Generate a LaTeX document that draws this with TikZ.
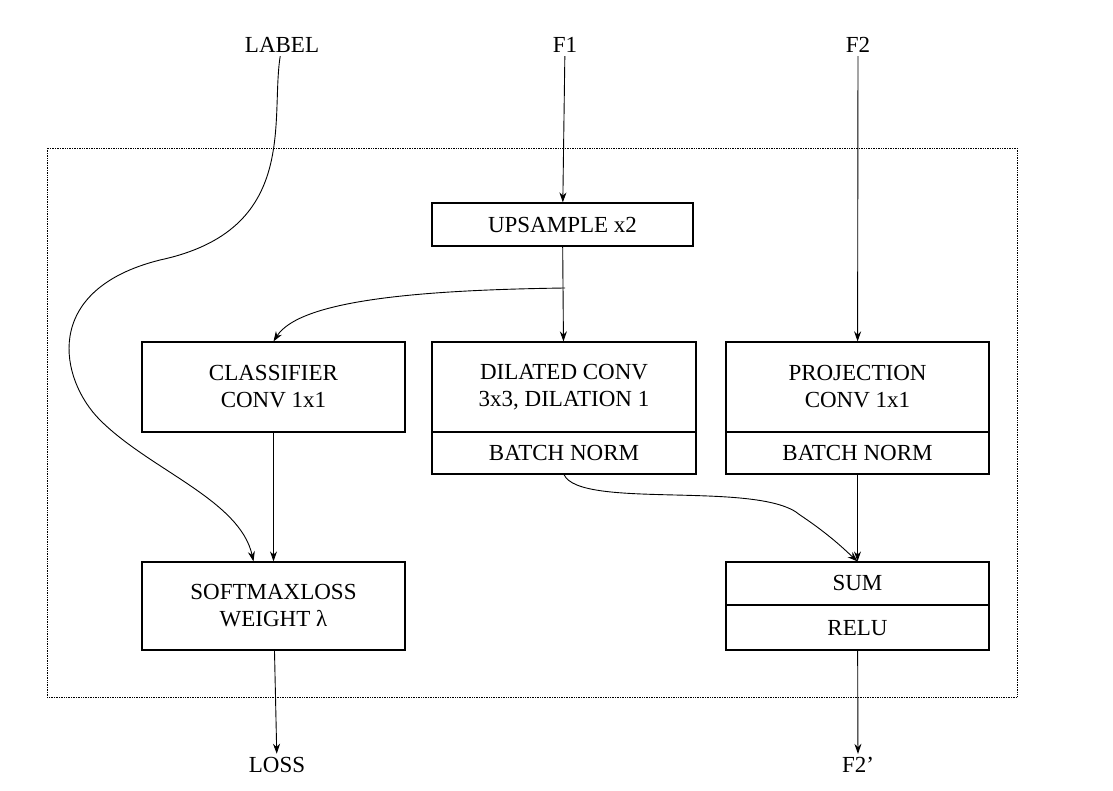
\documentclass[tikz,border=0pt]{standalone}
\usepackage{fontspec}
\setmainfont{Liberation Serif}
\usetikzlibrary{arrows.meta}
\begin{document}
\begin{tikzpicture}[x=1pt,y=-1pt,
  box/.style={draw,line width=1.2pt,inner sep=0pt},
  txt/.style={font=\fontsize{23}{27}\selectfont,align=center},
  arr/.style={-{Stealth[length=10pt,width=7pt]},line width=0.9pt}]
\useasboundingbox (0,0) rectangle (1113,791);
\draw[densely dotted,line width=0.7pt] (47,148) rectangle (1017,697);
\node[txt] (label) at (282,45) {LABEL};
\node[txt] (f1) at (565,45) {F1};
\node[txt] (f2) at (858,45) {F2};
\node[txt] (loss) at (277,765) {LOSS};
\node[txt] (f2p) at (858,765) {F2’};
% boxes
\node[box,minimum width=261pt,minimum height=43pt,txt] (up) at (562.5,224.5) {UPSAMPLE x2};
\node[box,minimum width=263pt,minimum height=90pt,txt] (cls) at (273.5,387) {CLASSIFIER\\CONV 1x1};
\node[box,minimum width=264pt,minimum height=132pt] (dil) at (564,408) {};
\draw[line width=1.2pt] (432,432) -- (696,432);
\node[txt] (dilt) at (564,387) {DILATED CONV\\3x3, DILATION 1};
\node[txt] (dilb) at (564,453) {BATCH NORM};
\node[box,minimum width=263pt,minimum height=132pt] (proj) at (857.5,408) {};
\draw[line width=1.2pt] (726,432) -- (989,432);
\node[txt] (projt) at (857.5,387) {PROJECTION\\CONV 1x1};
\node[txt] (projb) at (857.5,453) {BATCH NORM};
\node[box,minimum width=263pt,minimum height=88pt,txt] (soft) at (273.5,606) {SOFTMAXLOSS\\WEIGHT λ};
\node[box,minimum width=263pt,minimum height=88pt] (sum) at (857.5,606) {};
\draw[line width=1.2pt] (726,605) -- (989,605);
\node[txt] (sumt) at (857.5,583) {SUM};
\node[txt] (relu) at (857.5,628) {RELU};
\coordinate (split) at (565,288);
% connectors
\draw[arr] (f1) -- (up);
\draw[arr] (up) -- (dil);
\draw[arr] (split) .. controls (420,290) and (300,300) .. (cls.north);
\draw[arr] (f2) -- (proj);
\draw[arr] (cls) -- (soft);
\draw[arr] (label) .. controls (270,120) and (300,230) .. (160,260)
  .. controls (40,290) and (60,380) .. (100,420)
  .. controls (150,470) and (240,500) .. ([xshift=-20pt]soft.north);
\draw[arr] (dil.south) .. controls (580,510) and (760,480) .. (800,515) .. controls (830,535) and (845,550) .. (sum.north);
\draw[arr] (proj) -- (sum);
\draw[arr] (soft) -- (loss);
\draw[arr] (sum) -- (f2p);
\end{tikzpicture}
\end{document}
